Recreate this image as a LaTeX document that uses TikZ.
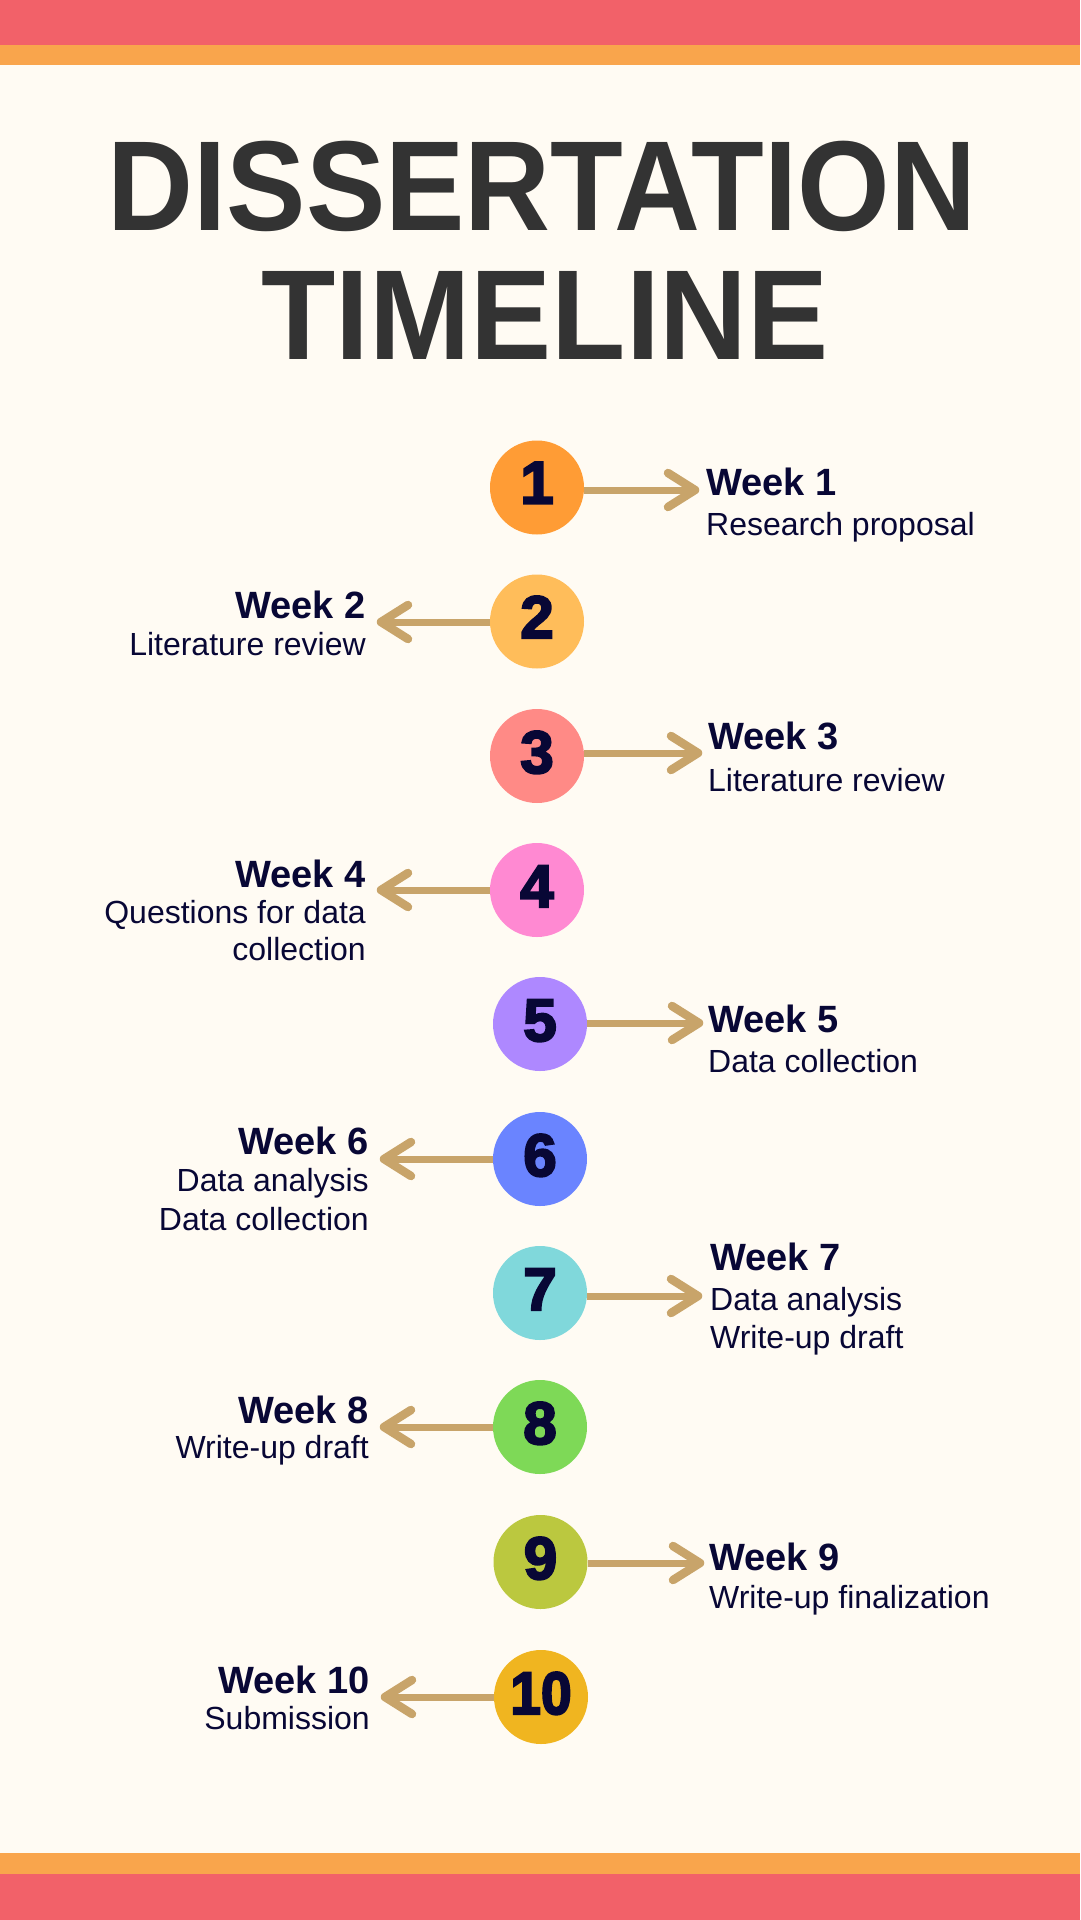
\documentclass[tikz,border=0pt]{standalone}
\usepackage{fontspec}
\usepackage{graphicx}
\setmainfont{Liberation Sans}
\newfontfamily\numfont{Liberation Sans}[UprightFont={* Bold}, FakeBold=3.5]
\definecolor{bgc}{HTML}{FFFBF3}
\definecolor{barred}{HTML}{F26169}
\definecolor{barorange}{HTML}{F9A54C}
\definecolor{titlec}{HTML}{333333}
\definecolor{navy}{HTML}{080735}
\definecolor{arrowc}{HTML}{C8A46A}
\definecolor{cA}{HTML}{FF9C35}
\definecolor{cB}{HTML}{FFBD5A}
\definecolor{cC}{HTML}{FF8A86}
\definecolor{cD}{HTML}{FF89D2}
\definecolor{cE}{HTML}{AE88FF}
\definecolor{cF}{HTML}{6A84FF}
\definecolor{cG}{HTML}{80D8DB}
\definecolor{cH}{HTML}{7ED957}
\definecolor{cI}{HTML}{BBC83F}
\definecolor{cJ}{HTML}{F0B520}
\begin{document}
\begin{tikzpicture}[x=1pt,y=-1pt,
  circ/.style={circle, minimum size=94pt, inner sep=0pt, draw=none, fill=#1},
  num/.style={font=\numfont\fontsize{60}{60}\selectfont, text=navy, anchor=base, inner sep=0pt},
  titletxt/.style={font=\bfseries\fontsize{128}{130}\selectfont, text=titlec, anchor=base, inner sep=0pt},
  wk/.style={font=\bfseries\fontsize{38}{40}\selectfont, text=navy, inner sep=0pt},
  sub/.style={font=\fontsize{32}{36}\selectfont, text=navy, inner sep=0pt},
  wkR/.style={wk, anchor=base west},
  subR/.style={sub, anchor=base west},
  wkL/.style={wk, anchor=base east},
  subL/.style={sub, anchor=base east},
  conn/.style={draw=arrowc, line width=7pt},
  chev/.style={draw=arrowc, line width=8.5pt, line cap=round, line join=round}
]
\useasboundingbox (0,0) rectangle (1080,1920);
\fill[bgc] (0,0) rectangle (1080,1920);
\fill[barred] (0,0) rectangle (1080,45);
\fill[barorange] (0,45) rectangle (1080,65);
\fill[barorange] (0,1853) rectangle (1080,1874);
\fill[barred] (0,1874) rectangle (1080,1920);

\node[titletxt] (title1) at (542,230) {\scalebox{0.93}[1]{DISSERTATION}};
\node[titletxt] (title2) at (545,359) {\scalebox{0.95}[1]{TIMELINE}};

% circles
\node[circ=cA] (c1) at (537,487.5) {};
\node[circ=cB] (c2) at (537,621.5) {};
\node[circ=cC] (c3) at (537,756) {};
\node[circ=cD] (c4) at (537,890) {};
\node[circ=cE] (c5) at (540,1024) {};
\node[circ=cF] (c6) at (540,1159) {};
\node[circ=cG] (c7) at (540,1293) {};
\node[circ=cH] (c8) at (540,1427) {};
\node[circ=cI] (c9) at (540.5,1562) {};
\node[circ=cJ] (c10) at (541,1697) {};

\node[num] (n1) at (537,503.5) {1};
\node[num] (n2) at (537,638) {2};
\node[num] (n3) at (537,773) {3};
\node[num] (n4) at (537,907) {4};
\node[num] (n5) at (540,1041) {5};
\node[num] (n6) at (540,1176) {6};
\node[num] (n7) at (540,1310) {7};
\node[num] (n8) at (540,1444) {8};
\node[num] (n9) at (540.5,1579) {9};
\node[num] (n10) at (541,1714) {\scalebox{0.92}[1]{10}};

% arrow tips
\coordinate (t1) at (695,490);
\coordinate (t2) at (381,622);
\coordinate (t3) at (698,753);
\coordinate (t4) at (381,890);
\coordinate (t5) at (699,1023);
\coordinate (t6) at (384,1159);
\coordinate (t7) at (698,1296);
\coordinate (t8) at (384,1427);
\coordinate (t9) at (700,1563);
\coordinate (t10) at (385,1697);

\foreach \i in {1,3,5,7,9} {
  \draw[conn] (c\i.east |- t\i) -- (t\i);
  \draw[chev] (t\i) ++(-27,-17) -- (t\i) -- ++(-27,17);
}
\foreach \i in {2,4,6,8,10} {
  \draw[conn] (c\i.west |- t\i) -- (t\i);
  \draw[chev] (t\i) ++(27,-17) -- (t\i) -- ++(27,17);
}

% right texts
\node[wkR] (w1) at (706,495) {Week 1};
\node[subR] (s1a) at (706,535) {Research proposal};
\node[wkR] (w3) at (708,749) {Week 3};
\node[subR] (s3a) at (708,791) {Literature review};
\node[wkR] (w5) at (708,1032) {Week 5};
\node[subR] (s5a) at (708,1072) {Data collection};
\node[wkR] (w7) at (710,1270) {Week 7};
\node[subR] (s7a) at (710,1310) {Data analysis};
\node[subR] (s7b) at (710,1348) {Write-up draft};
\node[wkR] (w9) at (709,1570) {Week 9};
\node[subR] (s9a) at (709,1608) {Write-up finalization};

% left texts
\node[wkL] (w2) at (366,618) {Week 2};
\node[subL] (s2a) at (366,655) {Literature review};
\node[wkL] (w4) at (366,887) {Week 4};
\node[subL] (s4a) at (366,923) {Questions for data};
\node[subL] (s4b) at (366,960) {collection};
\node[wkL] (w6) at (369,1154) {Week 6};
\node[subL] (s6a) at (369,1191) {Data analysis};
\node[subL] (s6b) at (369,1230) {Data collection};
\node[wkL] (w8) at (369,1423) {Week 8};
\node[subL] (s8a) at (369,1458) {Write-up draft};
\node[wkL] (w10) at (370,1693) {Week 10};
\node[subL] (s10a) at (370,1729) {Submission};
\end{tikzpicture}
\end{document}
